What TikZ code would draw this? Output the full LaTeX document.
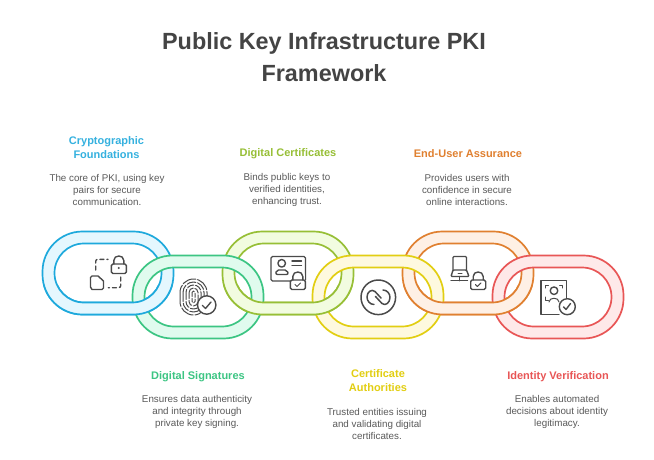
\documentclass[tikz,border=0pt]{standalone}
\usepackage{fontspec}
\setmainfont{Liberation Sans}
\usetikzlibrary{positioning}

\definecolor{iconc}{HTML}{4A4A4A}
\definecolor{titlec}{HTML}{444444}
\definecolor{bodyc}{HTML}{5A5A5A}
\definecolor{blueL}{HTML}{1EA9DC}   \definecolor{blueF}{HTML}{E5F7FE}
\definecolor{greenL}{HTML}{3CC583}  \definecolor{greenF}{HTML}{E0FBEE}
\definecolor{limeL}{HTML}{97BF36}   \definecolor{limeF}{HTML}{F2FCE0}
\definecolor{yellowL}{HTML}{E2CE12} \definecolor{yellowF}{HTML}{FEF9DF}
\definecolor{orangeL}{HTML}{E08030} \definecolor{orangeF}{HTML}{FEF0E5}
\definecolor{redL}{HTML}{E85656}    \definecolor{redF}{HTML}{FEE9E9}

\tikzset{
  headtext/.style={font=\fontsize{11}{14}\selectfont\bfseries,align=center,inner sep=0pt},
  bodytext/.style={font=\fontsize{9.8}{12}\selectfont,text=bodyc,align=center,inner sep=0pt},
  icon/.style={draw=iconc,line width=1.4pt,line cap=round,line join=round},
  pics/lockpic/.style={code={
    \fill[white] (-7,-4.5) -- (-7,-9) .. controls (-7,-16) and (7,-16) .. (7,-9) -- (7,-4.5) -- cycle;
    \draw[icon,fill=white,rounded corners=1.5pt] (-7.5,-4.5) rectangle (7.5,5);
    \draw[icon] (-5,-4.5) -- (-5,-8) .. controls (-5,-14) and (5,-14) .. (5,-8) -- (5,-4.5);
  }},
}

% one ring of the chain
\newcommand{\chainlink}[3]{
  \path[draw=#3,fill=#2,even odd rule,line width=1.7pt,rounded corners=40pt]
    (#1) rectangle ++(131,83) [rounded corners=29.5pt] ([shift={(12,12)}]#1) rectangle ++(107,59);
}

\begin{document}
\begin{tikzpicture}[x=1pt,y=-1pt]
  \path[fill=white,use as bounding box] (0,0) rectangle (654,460);

  \coordinate (cryptolink) at (42.5,231.5);
  \coordinate (signlink) at (132.5,255.5);
  \coordinate (certlink) at (222.5,231.5);
  \coordinate (authlink) at (312.5,255.5);
  \coordinate (userlink) at (402.5,231.5);
  \coordinate (idlink) at (492.5,255.5);

  % upper rings first, lower rings over them
  \chainlink{cryptolink}{blueF}{blueL}
  \chainlink{certlink}{limeF}{limeL}
  \chainlink{userlink}{orangeF}{orangeL}
  \chainlink{signlink}{greenF}{greenL}
  \chainlink{authlink}{yellowF}{yellowL}
  \chainlink{idlink}{redF}{redL}
  % bottoms of the upper rings go over again
  \begin{scope}
    \clip (0,285) rectangle (654,330);
    \chainlink{cryptolink}{blueF}{blueL}
    \chainlink{certlink}{limeF}{limeL}
    \chainlink{userlink}{orangeF}{orangeL}
  \end{scope}

  % title
  \node[font=\fontsize{23.4}{32}\selectfont\bfseries,text=titlec,align=center,inner sep=0pt] (title) at (324,57) {Public Key Infrastructure PKI\\Framework};

  % texts above
  \node[headtext,text=blueL!90!white] (cryptohead) at (106.5,148) {Cryptographic\\Foundations};
  \node[bodytext] (cryptotext) at (107,189.6) {The core of PKI, using key\\pairs for secure\\communication.};
  \node[headtext,text=limeL] (certhead) at (288,154) {Digital Certificates};
  \node[bodytext] (certtext) at (287,189.6) {Binds public keys to\\verified identities,\\enhancing trust.};
  \node[headtext,text=orangeL] (userhead) at (468,154) {End-User Assurance};
  \node[bodytext] (usertext) at (467,189.6) {Provides users with\\confidence in secure\\online interactions.};

  % texts below
  \node[headtext,text=greenL] (signhead) at (198,377) {Digital Signatures};
  \node[bodytext] (signtext) at (197,411.8) {Ensures data authenticity\\and integrity through\\private key signing.};
  \node[headtext,text=yellowL] (authhead) at (378,381) {Certificate\\Authorities};
  \node[bodytext] (authtext) at (377,423.8) {Trusted entities issuing\\and validating digital\\certificates.};
  \node[headtext,text=redL] (idhead) at (558,377) {Identity Verification};
  \node[bodytext] (idtext) at (557,411.8) {Enables automated\\decisions about identity\\legitimacy.};

  % icon: keys
  \pic at (118.8,268.5) {lockpic};
  \fill[iconc] (118.8,268) circle (1.1pt);
  \draw[icon] (90.5,287) -- (90.5,277.5) -- ++(1.5,-1.5) -- (98,276) -- (103.5,281) -- (103.5,288) -- ++(-1.5,1.5) -- (92,289.5) -- cycle;
  \draw[icon,rounded corners=2pt,dash pattern=on 4pt off 3pt] (95.7,270) -- (95.7,259.3) -- (108,259.3);
  \draw[icon,rounded corners=2pt,dash pattern=on 4pt off 3pt] (120.7,277) -- (120.7,287.7) -- (108.3,287.7);

  % icon: fingerprint
  \foreach \w/\h/\d in {13.5/18/14,10.5/15/9,7.5/12/7,4.5/9/6,1.5/6/4}
    \draw[icon,line width=1pt,rounded corners=\w pt,dash pattern=on \d pt off 1.8pt] (193.5-\w,297-\h) rectangle (193.5+\w,297+\h);
  \draw[icon,fill=white] (206.7,305) circle (9.2pt);
  \draw[icon] (202.3,305.3) -- (205.5,308.5) -- (211,302);

  % icon: id card
  \draw[icon,rounded corners=1.5pt] (271,256.5) rectangle (305.5,281);
  \draw[icon] (281.7,263.3) circle (3.8pt);
  \draw[icon,rounded corners=2pt] (275.5,274.5) -- (276.5,270) -- (287,270) -- (288.5,274.5) -- cycle;
  \draw[icon] (292,261) -- (301.5,261) (292,265.7) -- (301.5,265.7);
  \pic at (297.8,284.5) {lockpic};
  \draw[icon,line width=1pt] (295,284.5) -- (297,286.5) -- (300.5,283);

  % icon: linked hooks
  \draw[icon,line width=1.5pt] (378.3,297.3) circle (17.3pt);
  \draw[icon,line width=1.5pt] (381,298) -- (375,291.5) .. controls (371.5,288.5) and (367,292) .. (367,297) .. controls (367,301) and (370,304.5) .. (374,304.5);
  \draw[icon,line width=1.5pt] (375.5,296.5) -- (382,303.5) .. controls (385.5,306.5) and (390,302.5) .. (390,297.5) .. controls (390,293.5) and (387,290) .. (383,290);

  % icon: laptop
  \draw[icon,rounded corners=1pt] (453,270) -- (453,256.5) -- (466.5,256.5) -- (466.5,270);
  \draw[icon,rounded corners=1pt] (453,270) -- (466.5,270) -- (469,276.5) -- (451,276.5) -- cycle;
  \draw[icon,line width=1pt] (458,273) -- (462,273);
  \draw[icon] (459.5,276.5) -- (459.5,280.7) (451,280.7) -- (467.5,280.7);
  \pic at (478.2,284.5) {lockpic};
  \draw[icon,line width=1pt] (475.4,284.5) -- (477.4,286.5) -- (480.9,283);

  % icon: face id
  \draw[icon] (559,314.3) -- (541,314.3) -- (541,280.5) -- (566.5,280.5) -- (566.5,298);
  \draw[icon] (554,290.7) circle (3.8pt);
  \draw[icon,line width=1pt] (545.5,288) -- (545.5,285) -- (548.5,285) (559.5,285) -- (562.5,285) -- (562.5,288);
  \draw[icon,line width=1pt] (545.5,297) -- (545.5,300) -- (548.5,300);
  \draw[icon,line width=1pt] (549,302) .. controls (549,297) and (559,297) .. (559,302);
  \draw[icon,fill=white] (567.3,306.7) circle (8pt);
  \draw[icon] (563.5,306.8) -- (566,309.5) -- (570.5,303.5);
\end{tikzpicture}
\end{document}
